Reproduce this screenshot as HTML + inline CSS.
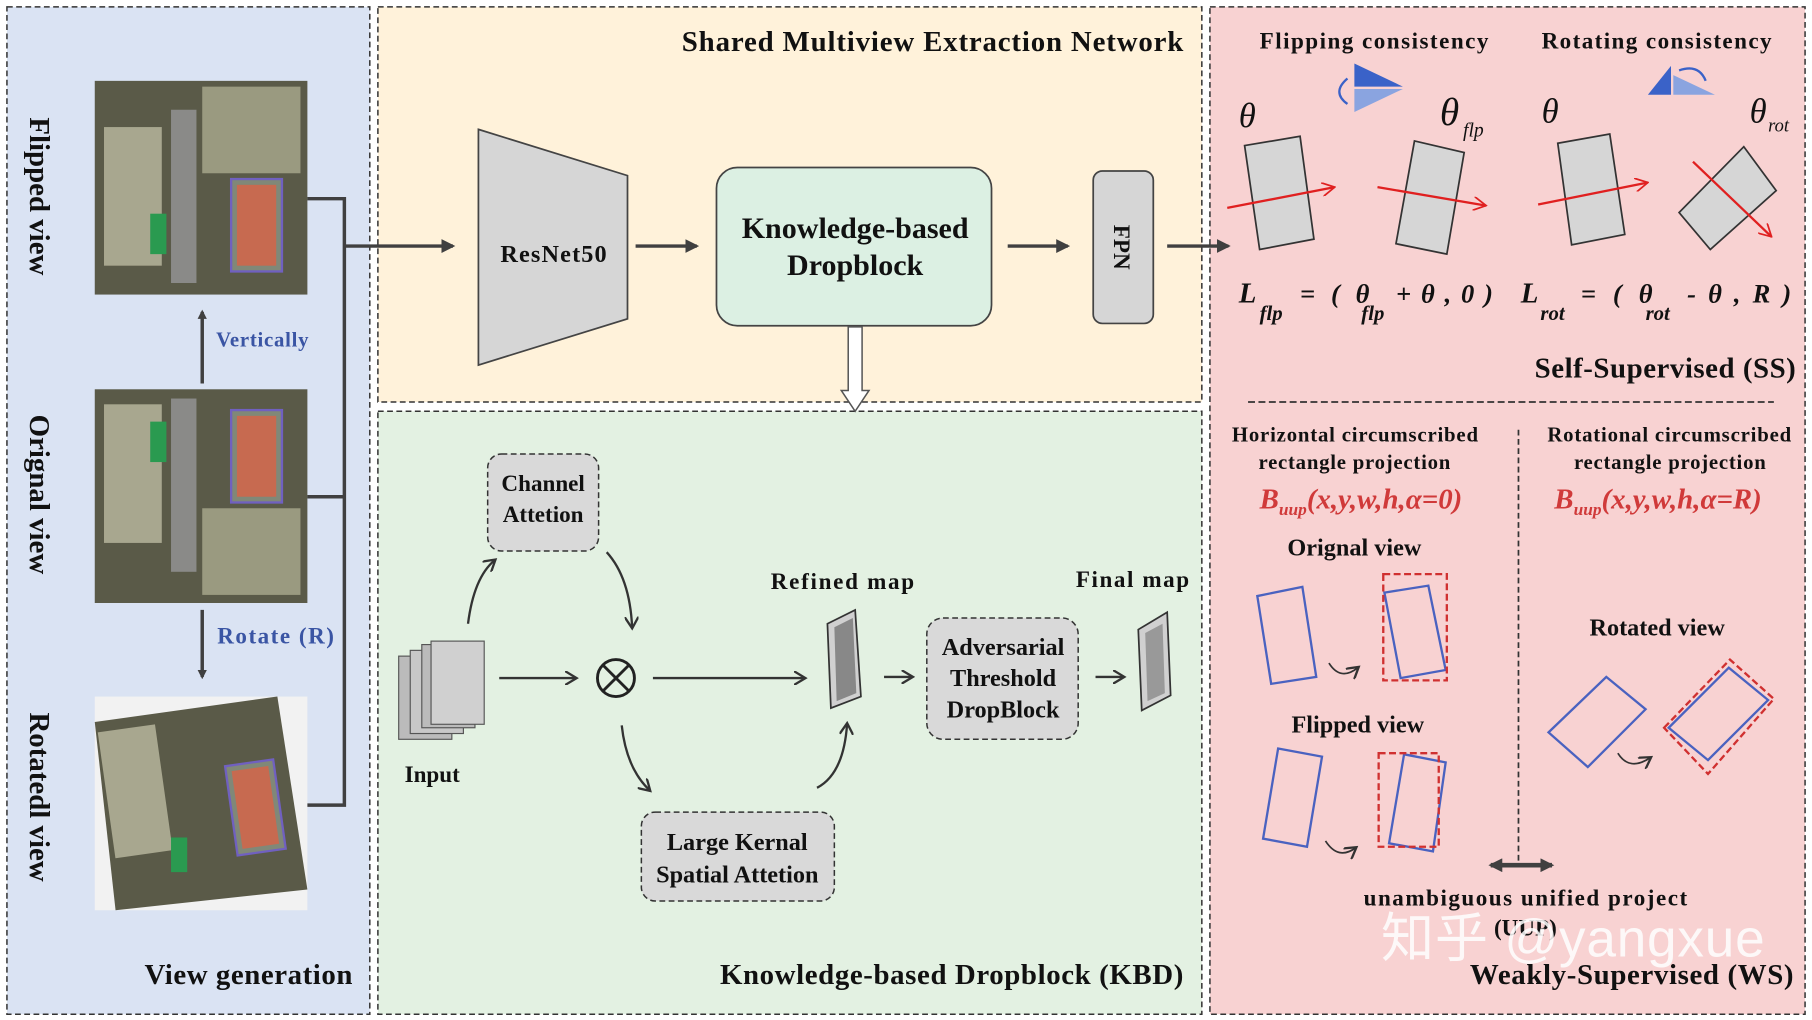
<!DOCTYPE html>
<html><head><meta charset="utf-8"><style>
html,body{margin:0;padding:0;background:#fff;}
svg{display:block;}
text{font-family:"Liberation Serif","Noto Serif CJK SC",serif;font-weight:bold;fill:#111;}
.ds{stroke:#333;stroke-width:1.3;stroke-dasharray:5,3;}
</style></head><body>
<svg width="1812" height="1020" viewBox="0 0 1568 883" preserveAspectRatio="none" xmlns="http://www.w3.org/2000/svg">
<defs>
<marker id="ah" markerWidth="8" markerHeight="8" refX="6" refY="4" orient="auto" markerUnits="userSpaceOnUse"><path d="M0,0 L8,4 L0,8 Z" fill="#404040"/></marker>
<marker id="ahb" markerWidth="12" markerHeight="12" refX="10" refY="6" orient="auto-start-reverse" markerUnits="userSpaceOnUse"><path d="M0,0 L12,6 L0,12 Z" fill="#404040"/></marker>
<marker id="ahr" markerWidth="12" markerHeight="12" refX="11" refY="6" orient="auto" markerUnits="userSpaceOnUse"><path d="M0,0 L11,6 L0,12" fill="none" stroke="#e02020" stroke-width="1.5"/></marker>
<marker id="ahc" markerWidth="12" markerHeight="12" refX="9" refY="6" orient="auto" markerUnits="userSpaceOnUse"><path d="M0,0 L10,6 L0,12" fill="none" stroke="#333" stroke-width="2"/></marker>
</defs>
<rect x="6" y="6" width="314" height="872" fill="#dae3f3" class="ds"/>
<rect x="327" y="6" width="713" height="342" fill="#fff2da" class="ds"/>
<rect x="327" y="356" width="713" height="522" fill="#e3f1e2" class="ds"/>
<rect x="1047" y="6" width="515" height="872" fill="#f8d2d2" class="ds"/>

<g>
<rect x="82" y="70" width="184" height="185" fill="#5a5a48"/>
<rect x="90" y="110" width="50" height="120" fill="#a8a78f"/>
<rect x="175" y="75" width="85" height="75" fill="#9a9a80"/>
<rect x="148" y="95" width="22" height="150" fill="#8a8a88"/>
<rect x="200" y="155" width="44" height="80" fill="#808878" stroke="#7060c0" stroke-width="2"/>
<rect x="205" y="160" width="34" height="70" fill="#c76a50"/>
<rect x="130" y="185" width="14" height="35" fill="#2a9a50"/>
<rect x="82" y="337" width="184" height="185" fill="#5a5a48"/>
<rect x="90" y="350" width="50" height="120" fill="#a8a78f"/>
<rect x="175" y="440" width="85" height="75" fill="#9a9a80"/>
<rect x="148" y="345" width="22" height="150" fill="#8a8a88"/>
<rect x="200" y="355" width="44" height="80" fill="#808878" stroke="#7060c0" stroke-width="2"/>
<rect x="205" y="360" width="34" height="70" fill="#c76a50"/>
<rect x="130" y="365" width="14" height="35" fill="#2a9a50"/>
<rect x="82" y="603" width="184" height="185" fill="#f2f2f2"/>
<polygon points="82,625 240,603 266,770 100,788" fill="#5a5a48"/>
<rect x="92" y="630" width="50" height="110" fill="#a8a78f" transform="rotate(-8 117 685)"/>
<rect x="200" y="660" width="42" height="78" fill="#808878" stroke="#7060c0" stroke-width="2" transform="rotate(-8 221 699)"/>
<rect x="205" y="665" width="32" height="68" fill="#c76a50" transform="rotate(-8 221 699)"/>
<rect x="148" y="725" width="14" height="30" fill="#2a9a50"/>
</g>
<text transform="translate(26,170) rotate(90)" font-size="25" text-anchor="middle">Flipped view</text>
<text transform="translate(26,428) rotate(90)" font-size="25" text-anchor="middle">Orignal view</text>
<text transform="translate(26,690) rotate(90)" font-size="25" text-anchor="middle">Rotatedl view</text>
<line x1="175" y1="332" x2="175" y2="270" stroke="#404040" stroke-width="3" marker-end="url(#ah)"/>
<text x="187" y="300" font-size="18" style="fill:#3a55a4" textLength="80">Vertically</text>
<line x1="175" y1="528" x2="175" y2="586" stroke="#404040" stroke-width="3" marker-end="url(#ah)"/>
<text x="188" y="557" font-size="20" style="fill:#3a55a4" textLength="101">Rotate (R)</text>
<polyline points="266,172 298,172 298,697 266,697" fill="none" stroke="#404040" stroke-width="3"/>
<line x1="266" y1="430" x2="298" y2="430" stroke="#404040" stroke-width="3"/>
<line x1="298" y1="213" x2="392" y2="213" stroke="#404040" stroke-width="3" marker-end="url(#ahb)"/>
<text x="125" y="852" font-size="25" textLength="180">View generation</text>

<text x="590" y="44" font-size="25" textLength="434">Shared Multiview Extraction  Network</text>
<polygon points="414,112 543,152 543,276 414,316" fill="#d6d6d6" stroke="#444" stroke-width="1.5"/>
<text x="433" y="227" font-size="21" textLength="92">ResNet50</text>
<line x1="550" y1="213" x2="603" y2="213" stroke="#404040" stroke-width="3" marker-end="url(#ahb)"/>
<rect x="620" y="145" width="238" height="137" rx="18" fill="#dcf0e3" stroke="#444" stroke-width="1.5"/>
<text x="740" y="206" font-size="26" text-anchor="middle">Knowledge-based</text>
<text x="740" y="238" font-size="26" text-anchor="middle">Dropblock</text>
<line x1="872" y1="213" x2="924" y2="213" stroke="#404040" stroke-width="3" marker-end="url(#ahb)"/>
<rect x="946" y="148" width="52" height="132" rx="8" fill="#d6d6d6" stroke="#444" stroke-width="1.5"/>
<text transform="translate(964,214) rotate(90)" font-size="20" text-anchor="middle">FPN</text>
<line x1="1010" y1="213" x2="1063" y2="213" stroke="#404040" stroke-width="3" marker-end="url(#ahb)"/>
<polygon points="734,283 746,283 746,338 752,338 740,356 728,338 734,338" fill="#fff" stroke="#555" stroke-width="1.3"/>

<g stroke="#555" stroke-width="1">
<rect x="345" y="568" width="46" height="72" fill="#bbb"/>
<rect x="355" y="563" width="46" height="72" fill="#c8c8c8"/>
<rect x="365" y="558" width="46" height="72" fill="#bbb"/>
<rect x="373" y="555" width="46" height="72" fill="#d0d0d0"/>
</g>
<text x="374" y="677" font-size="20" text-anchor="middle">Input</text>
<line x1="432" y1="587" x2="498" y2="587" stroke="#333" stroke-width="2" marker-end="url(#ahc)"/>
<circle cx="533" cy="587" r="16" fill="none" stroke="#222" stroke-width="2.5"/>
<line x1="522" y1="576" x2="544" y2="598" stroke="#222" stroke-width="2.5"/>
<line x1="544" y1="576" x2="522" y2="598" stroke="#222" stroke-width="2.5"/>
<line x1="565" y1="587" x2="696" y2="587" stroke="#333" stroke-width="2" marker-end="url(#ahc)"/>
<path d="M405,540 Q410,500 428,485" fill="none" stroke="#333" stroke-width="2" marker-end="url(#ahc)"/>
<path d="M525,478 Q545,500 547,543" fill="none" stroke="#333" stroke-width="2" marker-end="url(#ahc)"/>
<path d="M538,628 Q542,665 562,684" fill="none" stroke="#333" stroke-width="2" marker-end="url(#ahc)"/>
<path d="M707,682 Q730,670 733,627" fill="none" stroke="#333" stroke-width="2" marker-end="url(#ahc)"/>
<rect x="422" y="393" width="96" height="84" rx="12" fill="#d9d9d9" class="ds"/>
<text x="470" y="425" font-size="20" text-anchor="middle">Channel</text>
<text x="470" y="452" font-size="20" text-anchor="middle">Attetion</text>
<rect x="555" y="703" width="167" height="77" rx="12" fill="#d9d9d9" class="ds"/>
<text x="638" y="736" font-size="21" text-anchor="middle">Large Kernal</text>
<text x="638" y="764" font-size="21" text-anchor="middle">Spatial Attetion</text>
<text x="667" y="510" font-size="20" textLength="124">Refined map</text>
<polygon points="716,540 740,528 745,603 719,613" fill="#d0d0d0" stroke="#333" stroke-width="1.5"/>
<polygon points="722,543 738,535 741,600 724,607" fill="#888"/>
<line x1="765" y1="586" x2="789" y2="586" stroke="#333" stroke-width="2" marker-end="url(#ahc)"/>
<rect x="802" y="535" width="131" height="105" rx="14" fill="#d9d9d9" class="ds"/>
<text x="868" y="567" font-size="21" text-anchor="middle">Adversarial</text>
<text x="868" y="594" font-size="21" text-anchor="middle">Threshold</text>
<text x="868" y="621" font-size="21" text-anchor="middle">DropBlock</text>
<line x1="948" y1="586" x2="972" y2="586" stroke="#333" stroke-width="2" marker-end="url(#ahc)"/>
<text x="931" y="508" font-size="20" textLength="98">Final map</text>
<polygon points="985,545 1010,530 1013,602 988,615" fill="#d0d0d0" stroke="#333" stroke-width="1.5"/>
<polygon points="991,548 1006,540 1008,600 993,607" fill="#999"/>
<text x="623" y="852" font-size="25" textLength="401">Knowledge-based Dropblock (KBD)</text>

<text x="1090" y="42" font-size="20" textLength="198">Flipping consistency</text>
<text x="1334" y="42" font-size="20" textLength="199">Rotating consistency</text>
<polygon points="1172,55 1172,75 1214,75" fill="#3a62c8"/>
<polygon points="1172,77 1172,97 1214,77" fill="#8aa4e0"/>
<path d="M1166,68 Q1152,80 1166,90" fill="none" stroke="#3a62c8" stroke-width="2"/>
<polygon points="1446,57 1446,82 1426,82" fill="#3a62c8"/>
<polygon points="1448,65 1448,82 1484,82" fill="#8aa4e0"/>
<path d="M1453,61 Q1470,55 1476,70" fill="none" stroke="#3a62c8" stroke-width="2"/>
<g font-style="italic">
<text x="1072" y="110" font-size="30" style="font-weight:normal">θ</text>
<text x="1246" y="108" font-size="34" style="font-weight:normal">θ</text>
<text x="1266" y="118" font-size="17" style="font-weight:normal">flp</text>
<text x="1334" y="106" font-size="30" style="font-weight:normal">θ</text>
<text x="1514" y="106" font-size="30" style="font-weight:normal">θ</text>
<text x="1530" y="114" font-size="16" style="font-weight:normal">rot</text>
</g>
<g fill="#d6d6d6" stroke="#333" stroke-width="1.5">
<polygon points="1077,126 1125,118 1137,207 1090,216"/>
<polygon points="1224,122 1267,132 1252,220 1208,211"/>
<polygon points="1348,124 1393,116 1406,203 1360,212"/>
<polygon points="1487,127 1515,165 1458,216 1431,184" transform="translate(22,0)"/>
</g>
<g stroke="#e02020" stroke-width="2" fill="none">
<line x1="1062" y1="180" x2="1155" y2="162" marker-end="url(#ahr)"/>
<line x1="1192" y1="162" x2="1286" y2="178" marker-end="url(#ahr)"/>
<line x1="1331" y1="177" x2="1426" y2="158" marker-end="url(#ahr)"/>
<line x1="1465" y1="140" x2="1533" y2="205" marker-end="url(#ahr)"/>
</g>
<g font-style="italic">
<text x="1072" y="262" font-size="25">L</text>
<text x="1090" y="277" font-size="18">flp</text>
<text x="1125" y="262" font-size="23" textLength="60">= ( θ</text>
<text x="1178" y="277" font-size="18">flp</text>
<text x="1208" y="262" font-size="23" textLength="84">+ θ , 0 )</text>
<text x="1316" y="262" font-size="25">L</text>
<text x="1333" y="277" font-size="18">rot</text>
<text x="1368" y="262" font-size="23" textLength="62">= ( θ</text>
<text x="1424" y="277" font-size="18">rot</text>
<text x="1460" y="262" font-size="23" textLength="90">- θ , R )</text>
</g>
<text x="1328" y="327" font-size="25" textLength="226">Self-Supervised (SS)</text>
<line x1="1080" y1="348" x2="1535" y2="348" stroke="#333" stroke-width="1.5" stroke-dasharray="6,3"/>
<line x1="1314" y1="372" x2="1314" y2="745" stroke="#333" stroke-width="1.5" stroke-dasharray="5,3"/>

<text x="1066" y="382" font-size="18" textLength="213">Horizontal circumscribed</text>
<text x="1089" y="406" font-size="18" textLength="166">rectangle projection</text>
<text x="1339" y="382" font-size="18" textLength="211">Rotational circumscribed</text>
<text x="1362" y="406" font-size="18" textLength="166">rectangle projection</text>
<text x="1090" y="440" font-size="25" font-style="italic" style="fill:#d03a3a">B<tspan font-size="15" dy="6">uup</tspan><tspan dy="-6">(x,y,w,h,α=0)</tspan></text>
<text x="1345" y="440" font-size="25" font-style="italic" style="fill:#d03a3a">B<tspan font-size="15" dy="6">uup</tspan><tspan dy="-6">(x,y,w,h,α=R)</tspan></text>
<text x="1172" y="481" font-size="21" text-anchor="middle">Orignal view</text>
<text x="1175" y="634" font-size="21" text-anchor="middle">Flipped view</text>
<text x="1434" y="550" font-size="21" text-anchor="middle">Rotated view</text>
<g fill="none" stroke="#4a62c0" stroke-width="2">
<polygon points="1088,516 1127,508 1139,586 1100,592"/>
<polygon points="1198,513 1236,507 1251,580 1212,587"/>
<polygon points="1106,648 1144,655 1131,733 1093,726"/>
<polygon points="1195,663 1231,670 1220,747 1182,740" transform="translate(20,-10)"/>
<polygon points="1340,634 1390,586 1424,614 1374,664"/>
<polygon points="1444,630 1496,578 1530,606 1478,658"/>
</g>
<g fill="none" stroke="#d03030" stroke-width="2" stroke-dasharray="6,3">
<rect x="1197" y="497" width="55" height="92"/>
<rect x="1193" y="652" width="52" height="81"/>
<polygon points="1440,630 1497,571 1535,605 1478,670"/>
</g>
<g fill="none" stroke="#333" stroke-width="1.5">
<path d="M1150,574 Q1160,590 1175,578" marker-end="url(#ahc)"/>
<path d="M1147,728 Q1158,745 1173,734" marker-end="url(#ahc)"/>
<path d="M1400,652 Q1410,668 1428,656" marker-end="url(#ahc)"/>
</g>
<line x1="1290" y1="749" x2="1343" y2="749" stroke="#404040" stroke-width="4" marker-start="url(#ahb)" marker-end="url(#ahb)"/>
<text x="1180" y="784" font-size="20" textLength="280">unambiguous unified project</text>
<text x="1320" y="810" font-size="20" text-anchor="middle">(UUP)</text>
<text x="1195" y="828" font-size="46" style="fill:#ffffff;font-family:'Liberation Sans','Noto Sans CJK SC',sans-serif;font-weight:normal;opacity:0.85" textLength="332">知乎 @yangxue</text>
<text x="1272" y="852" font-size="25" textLength="280">Weakly-Supervised (WS)</text>
</svg>
</body></html>
